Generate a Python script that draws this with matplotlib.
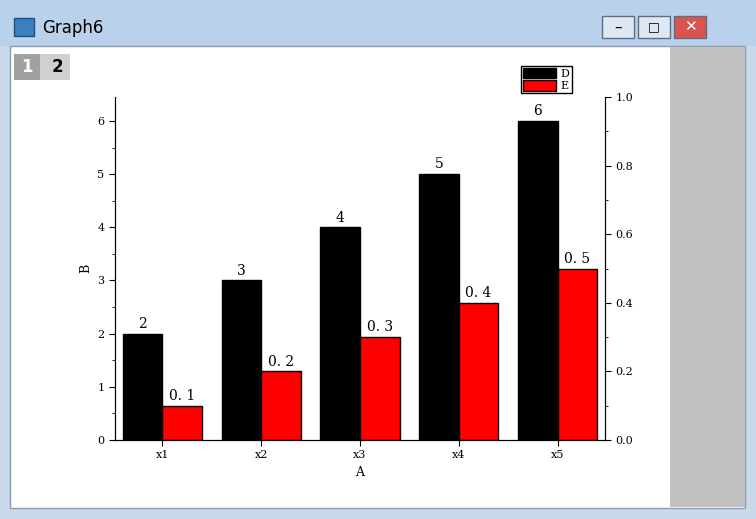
import matplotlib.pyplot as plt
import numpy as np
from matplotlib.patches import Rectangle

categories = ["x1", "x2", "x3", "x4", "x5"]
d_values = [2, 3, 4, 5, 6]
e_values = [0.1, 0.2, 0.3, 0.4, 0.5]

W, H = 756, 519
fig = plt.figure(figsize=(W / 100, H / 100), dpi=100)
fig.patch.set_facecolor("#c9d9ea")


def px_rect(x, y, w, h, **kw):
    # rectangle in pixel coords, y from top; drawn behind the axes
    r = Rectangle((x / W, 1 - (y + h) / H), w / W, h / H, transform=fig.transFigure, zorder=-10, **kw)
    fig.add_artist(r)


# window chrome
px_rect(0, 0, W, 46, facecolor="#b9d1ea", edgecolor="none")
px_rect(10, 46, 735, 462, facecolor="white", edgecolor="#8a9bb0", lw=1)
px_rect(670, 47, 75, 460, facecolor="#c0c0c0", edgecolor="none")
px_rect(14, 18, 20, 18, facecolor="#3a7fc0", edgecolor="#20507a")
fig.text(42 / W, 1 - 28 / H, "Graph6", fontsize=12, va="center", family="DejaVu Sans")
for bx, col in [(602, "#dfe8f2"), (638, "#dfe8f2"), (674, "#d9534f")]:
    px_rect(bx, 16, 32, 22, facecolor=col, edgecolor="#5a6e86", lw=1)
fig.text(618 / W, 1 - 27 / H, "–", ha="center", va="center", fontsize=11)
fig.text(654 / W, 1 - 27 / H, "□", ha="center", va="center", fontsize=9)
fig.text(690 / W, 1 - 27 / H, "✕", ha="center", va="center", fontsize=11, color="white")
px_rect(14, 54, 26, 26, facecolor="#a0a0a0", edgecolor="none")
px_rect(40, 54, 30, 26, facecolor="#d0d0d0", edgecolor="none")
fig.text(27 / W, 1 - 67 / H, "1", ha="center", va="center", fontsize=12, color="white", weight="bold")
fig.text(57 / W, 1 - 67 / H, "2", ha="center", va="center", fontsize=12, weight="bold")

# plot axes
ax = fig.add_axes([115 / W, 1 - 440 / H, 490 / W, 343 / H])
ax.patch.set_alpha(0)
ax2 = ax.twinx()
x = np.arange(len(categories))
w = 0.4
serif = "DejaVu Serif"
b1 = ax.bar(x - w / 2, d_values, w, color="black", edgecolor="black", label="D")
b2 = ax2.bar(x + w / 2, e_values, w, color="red", edgecolor="black", label="E")
for xi, v in zip(x, d_values):
    ax.text(xi - w / 2, v + 0.05, str(v), ha="center", va="bottom", fontsize=10, family=serif)
for xi, v in zip(x, e_values):
    ax2.text(xi + w / 2, v + 0.008, f"0. {int(round(v * 10))}", ha="center", va="bottom", fontsize=10, family=serif)

ax.set_xlim(-0.48, 4.48)
ax.set_ylim(0, 6.45)
ax2.set_ylim(0, 1.0)
ax.set_xticks(x)
ax.set_xticklabels(categories, fontsize=8, family=serif)
ax.set_yticks(range(7))
ax.set_yticklabels([str(i) for i in range(7)], fontsize=8, family=serif)
ax2.set_yticks(np.arange(0, 1.01, 0.2))
ax2.set_yticklabels([f"{t:.1f}" for t in np.arange(0, 1.01, 0.2)], fontsize=8, family=serif)
ax.set_xlabel("A", fontsize=9, family=serif)
ax.set_ylabel("B", fontsize=9, family=serif)
for a in (ax, ax2):
    a.spines["top"].set_visible(False)
    a.tick_params(direction="out", length=4)
ax.yaxis.set_minor_locator(plt.MultipleLocator(0.5))
ax2.yaxis.set_minor_locator(plt.MultipleLocator(0.1))
for a in (ax, ax2):
    a.tick_params(which="minor", length=2)

fig.legend([b1, b2], ["D", "E"], loc="upper left", bbox_to_anchor=(515 / W, 1 - 60 / H),
           fancybox=False, edgecolor="black", framealpha=1, prop={"family": serif, "size": 8},
           handlelength=3, handleheight=1.1, borderpad=0.2, labelspacing=0.1, handletextpad=0.4)

fig.savefig("out.png", dpi=100)
